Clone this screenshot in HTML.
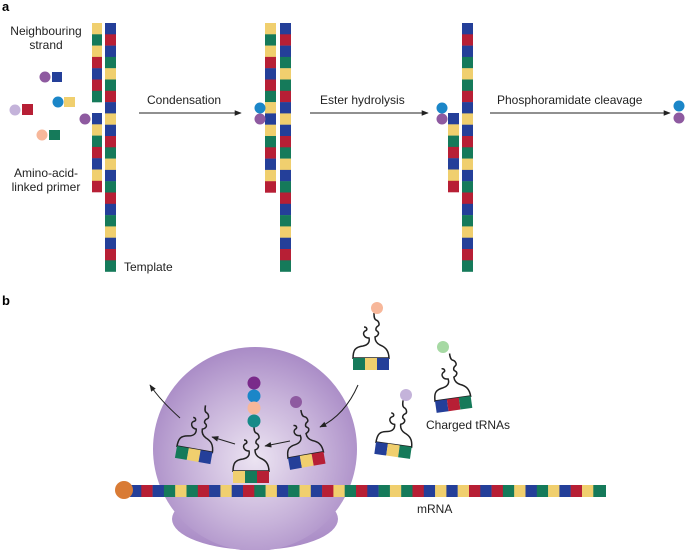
<!DOCTYPE html>
<html><head><meta charset="utf-8"><style>
html,body{margin:0;padding:0;background:#fff;}
svg{display:block;font-family:"Liberation Sans",sans-serif;}
</style></head><body>
<svg id="s" width="685" height="550" viewBox="0 0 685 550" xmlns="http://www.w3.org/2000/svg">
<defs>
<radialGradient id="rg" cx="0.5" cy="0.55" r="0.55">
<stop offset="0" stop-color="#ece4f2"/><stop offset="0.6" stop-color="#c6b1d9"/><stop offset="1" stop-color="#a98bc6"/>
</radialGradient>
<radialGradient id="rg2" cx="0.5" cy="0.3" r="0.7">
<stop offset="0" stop-color="#c8b4da"/><stop offset="1" stop-color="#a98bc6"/>
</radialGradient>
<marker id="ah" viewBox="0 0 10 10" refX="9" refY="5" markerWidth="7" markerHeight="7" orient="auto"><path d="M0,1 L10,5 L0,9 z" fill="#222"/></marker>
<g id="trna"><path d="M0,0 H36 M0,1 C0,-8 2,-11 10,-12 C15,-13 17,-16 16,-20 C11,-20 9,-25 12,-27 C15,-28 14,-31 11,-31 M36,1 C36,-8 32,-11 27,-13 C23,-15 22,-18 22,-21 C25,-22 27,-25 24,-27 C22,-28 23,-31 25,-32 C27,-33 26,-37 23,-38 C21,-39 21,-42 21,-45" fill="none" stroke="#222" stroke-width="1.5"/></g>
</defs>
<text x="2" y="11" font-size="13" font-weight="bold">a</text>
<text x="2" y="305" font-size="13" font-weight="bold">b</text>
<text x="46" y="35" font-size="12" text-anchor="middle" fill="#222">Neighbouring</text>
<text x="46" y="49" font-size="12" text-anchor="middle" fill="#222">strand</text>
<text x="46" y="177" font-size="12" text-anchor="middle" fill="#222">Amino-acid-</text>
<text x="46" y="191" font-size="12" text-anchor="middle" fill="#222">linked primer</text>
<text x="124" y="271" font-size="12" fill="#222">Template</text>
<text x="147" y="104" font-size="12" fill="#222">Condensation</text>
<text x="320" y="104" font-size="12" fill="#222">Ester hydrolysis</text>
<text x="497" y="104" font-size="12" fill="#222">Phosphoramidate cleavage</text>
<line x1="139" y1="113" x2="241" y2="113" stroke="#222" marker-end="url(#ah)"/>
<line x1="310" y1="113" x2="428" y2="113" stroke="#222" marker-end="url(#ah)"/>
<line x1="490" y1="113" x2="670" y2="113" stroke="#222" marker-end="url(#ah)"/>
<g id="cols"></g>
<circle cx="45" cy="77" r="5.5" fill="#8e5aa0"/><rect x="52" y="72" width="10" height="10" fill="#243f99"/>
<circle cx="58" cy="102" r="5.5" fill="#1b86c8"/><rect x="64" y="97" width="11" height="10" fill="#f0cf6e"/>
<circle cx="15" cy="110" r="5.5" fill="#c4b3da"/><rect x="22" y="104" width="11" height="11" fill="#b71f35"/>
<circle cx="42" cy="135" r="5.5" fill="#f7b79a"/><rect x="49" y="130" width="11" height="10" fill="#157a5a"/>
<circle cx="85" cy="119" r="5.5" fill="#8e5aa0"/>
<circle cx="260" cy="108" r="5.5" fill="#1b86c8"/><circle cx="260" cy="119" r="5.5" fill="#8e5aa0"/>
<circle cx="442" cy="108" r="5.5" fill="#1b86c8"/><circle cx="442" cy="119" r="5.5" fill="#8e5aa0"/>
<circle cx="679" cy="106" r="5.5" fill="#1b86c8"/><circle cx="679" cy="118" r="5.5" fill="#8e5aa0"/>

<ellipse cx="255" cy="519" rx="83" ry="31" fill="url(#rg2)"/>
<circle cx="255" cy="449" r="102" fill="url(#rg)"/>
<g id="mrna"></g>
<circle cx="124" cy="490" r="9" fill="#d97b35"/>
<text x="417" y="513" font-size="12" fill="#222">mRNA</text>
<text x="426" y="429" font-size="12" fill="#222">Charged tRNAs</text>

<g transform="translate(233,471)"><use href="#trna"/><rect x="0" y="0" width="12" height="12" fill="#f0cf6e"/><rect x="12" y="0" width="12" height="12" fill="#157a5a"/><rect x="24" y="0" width="12" height="12" fill="#b71f35"/></g>
<circle cx="254" cy="383" r="6.5" fill="#7a2a8a"/><circle cx="254" cy="396" r="6.5" fill="#1b86c8"/><circle cx="254" cy="408" r="6.5" fill="#f7b79a"/><circle cx="254" cy="421" r="6.5" fill="#168a88"/>
<g transform="translate(177,446) rotate(10)"><use href="#trna"/><rect x="0" y="0" width="12" height="12" fill="#157a5a"/><rect x="12" y="0" width="12" height="12" fill="#f0cf6e"/><rect x="24" y="0" width="12" height="12" fill="#243f99"/></g>
<g transform="translate(288,458) rotate(-10)"><use href="#trna"/><rect x="0" y="0" width="12" height="12" fill="#243f99"/><rect x="12" y="0" width="12" height="12" fill="#f0cf6e"/><rect x="24" y="0" width="12" height="12" fill="#b71f35"/></g>
<circle cx="296" cy="402" r="6" fill="#8e5aa0"/>
<g transform="translate(353,358)"><use href="#trna"/><rect x="0" y="0" width="12" height="12" fill="#157a5a"/><rect x="12" y="0" width="12" height="12" fill="#f0cf6e"/><rect x="24" y="0" width="12" height="12" fill="#243f99"/></g>
<circle cx="377" cy="308" r="6" fill="#f7b79a"/>
<g transform="translate(435,401) rotate(-8)"><use href="#trna"/><rect x="0" y="0" width="12" height="12" fill="#243f99"/><rect x="12" y="0" width="12" height="12" fill="#b71f35"/><rect x="24" y="0" width="12" height="12" fill="#157a5a"/></g>
<circle cx="443" cy="347" r="6" fill="#a6d9a3"/>
<g transform="translate(376,442) rotate(8)"><use href="#trna"/><rect x="0" y="0" width="12" height="12" fill="#243f99"/><rect x="12" y="0" width="12" height="12" fill="#f0cf6e"/><rect x="24" y="0" width="12" height="12" fill="#157a5a"/></g>
<circle cx="406" cy="395" r="6" fill="#c4b3da"/>

<path d="M180,418 Q160,400 150,385" fill="none" stroke="#222" marker-end="url(#ah)"/>
<line x1="235" y1="444" x2="212" y2="437" stroke="#222" marker-end="url(#ah)"/>
<line x1="290" y1="441" x2="265" y2="446" stroke="#222" marker-end="url(#ah)"/>
<path d="M358,385 Q345,415 320,427" fill="none" stroke="#222" marker-end="url(#ah)"/>
</svg>
<script>
var C={b:"#243f99",r:"#b71f35",g:"#157a5a",y:"#f0cf6e"};
var ns="http://www.w3.org/2000/svg";
function col(x,y0,seq,h,w,parent){var p=document.getElementById(parent);for(var i=0;i<seq.length;i++){var r=document.createElementNS(ns,"rect");r.setAttribute("x",x);r.setAttribute("y",y0+i*h);r.setAttribute("width",w);r.setAttribute("height",h+0.2);r.setAttribute("fill",C[seq[i]]);p.appendChild(r);}}
var T="brbgygrbybrgybgrbgybrg";
col(105,23,T,11.3,11,"cols");col(92,23,"ygyrbrg",11.3,10,"cols");col(92,113,"bygrbyr",11.3,10,"cols");
col(280,23,T,11.3,11,"cols");col(265,23,"ygyrbrgybygrbyr",11.3,11,"cols");
col(462,23,T,11.3,11,"cols");col(448,113,"bygrbyr",11.3,11,"cols");
var M="brbgygrbybrgybgybrygrbgygrbybyrbrgybgybry";
var p=document.getElementById("mrna");
for(var i=0;i<M.length;i++){var r=document.createElementNS(ns,"rect");r.setAttribute("x",130+i*11.3);r.setAttribute("y",485);r.setAttribute("width",11.5);r.setAttribute("height",12);r.setAttribute("fill",C[M[i]]);p.appendChild(r);}
var e=130+M.length*11.3;var r=document.createElementNS(ns,"rect");r.setAttribute("x",e);r.setAttribute("y",485);r.setAttribute("width",606-e);r.setAttribute("height",12);r.setAttribute("fill",C.g);p.appendChild(r);
</script>
</body></html>
